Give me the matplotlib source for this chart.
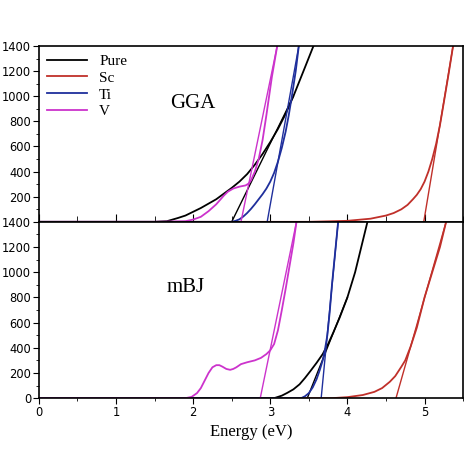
import matplotlib
matplotlib.use("Agg")
import matplotlib.pyplot as plt
from matplotlib.ticker import MultipleLocator

# GGA curves (energy eV, absorption)
gga_pure_x = [0, 1.5, 1.66, 1.8, 1.9, 2.0, 2.1, 2.2, 2.3, 2.4, 2.5, 2.6, 2.7, 2.8, 2.9, 3.0, 3.1, 3.2, 3.3, 3.45, 3.56]
gga_pure_y = [0, 0, 5, 30, 50, 80, 110, 145, 180, 225, 270, 320, 380, 455, 540, 635, 740, 860, 1000, 1230, 1400]
gga_pure_tx = [2.5, 3.3]
gga_pure_ty = [0, 1000]
gga_sc_x = [0, 3.5, 4.0, 4.3, 4.5, 4.6, 4.7, 4.78, 4.85, 4.9, 4.95, 5.0, 5.05, 5.1, 5.15, 5.2, 5.25, 5.31, 5.37]
gga_sc_y = [0, 0, 8, 25, 50, 70, 100, 135, 180, 215, 260, 320, 400, 500, 620, 770, 950, 1170, 1400]
gga_sc_tx = [4.99, 5.37]
gga_sc_ty = [0, 1400]
gga_ti_x = [0, 2.5, 2.55, 2.6, 2.65, 2.7, 2.75, 2.8, 2.85, 2.9, 2.95, 3.0, 3.05, 3.1, 3.15, 3.2, 3.24, 3.28, 3.33, 3.37]
gga_ti_y = [0, 0, 8, 20, 42, 70, 103, 140, 180, 220, 265, 320, 390, 480, 590, 720, 850, 1000, 1200, 1400]
gga_ti_tx = [2.96, 3.37]
gga_ti_ty = [0, 1400]
gga_v_x = [0, 1.5, 1.9, 2.0, 2.1, 2.2, 2.3, 2.4, 2.45, 2.52, 2.6, 2.68, 2.72, 2.75, 2.8, 2.85, 2.9, 2.95, 3.02, 3.09]
gga_v_y = [0, 0, 5, 18, 40, 85, 140, 210, 240, 265, 280, 290, 305, 330, 400, 500, 650, 850, 1150, 1400]
gga_v_tx = [2.62, 3.09]
gga_v_ty = [0, 1400]

# mBJ curves
mbj_pure_x = [0, 3.05, 3.15, 3.22, 3.3, 3.38, 3.45, 3.52, 3.6, 3.68, 3.75, 3.82, 3.9, 4.0, 4.1, 4.2, 4.26]
mbj_pure_y = [0, 0, 20, 42, 70, 110, 160, 215, 280, 350, 430, 525, 640, 800, 1000, 1250, 1400]
mbj_pure_tx = [3.48, 4.0]
mbj_pure_ty = [0, 800]
mbj_sc_x = [0, 3.8, 4.0, 4.2, 4.35, 4.45, 4.55, 4.62, 4.7, 4.75, 4.82, 4.9, 5.0, 5.1, 5.2, 5.28]
mbj_sc_y = [0, 0, 8, 25, 50, 80, 130, 175, 250, 300, 410, 560, 800, 1000, 1200, 1400]
mbj_sc_tx = [4.63, 5.28]
mbj_sc_ty = [0, 1400]
mbj_ti_x = [0, 3.4, 3.45, 3.5, 3.55, 3.6, 3.64, 3.68, 3.71, 3.74, 3.77, 3.8, 3.84, 3.88]
mbj_ti_y = [0, 0, 15, 40, 85, 150, 220, 300, 390, 500, 680, 900, 1150, 1400]
mbj_ti_tx = [3.66, 3.88]
mbj_ti_ty = [0, 1400]
mbj_v_x = [0, 1.9, 1.98, 2.05, 2.1, 2.15, 2.2, 2.25, 2.3, 2.34, 2.38, 2.43, 2.48, 2.52, 2.56, 2.62, 2.7, 2.8, 2.88, 2.95, 3.0, 3.05, 3.1, 3.15, 3.2, 3.25, 3.3, 3.34]
mbj_v_y = [0, 0, 10, 40, 80, 140, 200, 245, 262, 262, 250, 232, 225, 232, 245, 270, 285, 300, 320, 350, 380, 430, 540, 700, 870, 1050, 1230, 1400]
mbj_v_tx = [2.87, 3.34]
mbj_v_ty = [0, 1400]

labels = ["Pure", "Sc", "Ti", "V"]
colors = ["#000000", "#c0302a", "#1f2f9c", "#cc33cc"]

serif = "Liberation Serif"
fig = plt.figure(figsize=(4.74, 4.74), dpi=100)
ax1 = fig.add_axes([0.082, 0.532, 0.895, 0.371])
ax2 = fig.add_axes([0.082, 0.160, 0.895, 0.372])

gga = [(gga_pure_x, gga_pure_y, gga_pure_tx, gga_pure_ty),
       (gga_sc_x, gga_sc_y, gga_sc_tx, gga_sc_ty),
       (gga_ti_x, gga_ti_y, gga_ti_tx, gga_ti_ty),
       (gga_v_x, gga_v_y, gga_v_tx, gga_v_ty)]
mbj = [(mbj_pure_x, mbj_pure_y, mbj_pure_tx, mbj_pure_ty),
       (mbj_sc_x, mbj_sc_y, mbj_sc_tx, mbj_sc_ty),
       (mbj_ti_x, mbj_ti_y, mbj_ti_tx, mbj_ti_ty),
       (mbj_v_x, mbj_v_y, mbj_v_tx, mbj_v_ty)]

for ax, data in ((ax1, gga), (ax2, mbj)):
    for (x, y, tx, ty), lab, c in zip(data, labels, colors):
        ax.plot(x, y, color=c, lw=1.3, label=lab)
        ax.plot(tx, ty, color=c, lw=1.0)
    ax.set_xlim(0, 5.5)
    ax.set_ylim(0, 1400)
    ax.xaxis.set_major_locator(MultipleLocator(1))
    ax.xaxis.set_minor_locator(MultipleLocator(0.5))
    ax.yaxis.set_major_locator(MultipleLocator(200))
    ax.yaxis.set_minor_locator(MultipleLocator(100))
    ax.tick_params(labelsize=8.3, length=4, pad=1.5)
    ax.tick_params(which="minor", length=2)
    for s in ax.spines.values():
        s.set_linewidth(1.2)

ax1.set_yticks(range(200, 1401, 200))
ax1.set_yticklabels([str(v) for v in range(200, 1401, 200)])
ax1.tick_params(axis="x", labelbottom=False, direction="in", length=6)
ax1.tick_params(axis="x", which="minor", direction="in", length=4)
ax1.text(0.31, 0.65, "GGA", transform=ax1.transAxes, fontsize=15, family=serif)
ax2.text(0.30, 0.60, "mBJ", transform=ax2.transAxes, fontsize=15, family=serif)
ax1.legend(loc="upper left", frameon=False, prop={"family": serif, "size": 11},
           handlelength=2.6, labelspacing=0.2, borderaxespad=0.15)
ax2.set_xlabel("Energy (eV)", family=serif, fontsize=12)

fig.savefig("out.png", dpi=100)
